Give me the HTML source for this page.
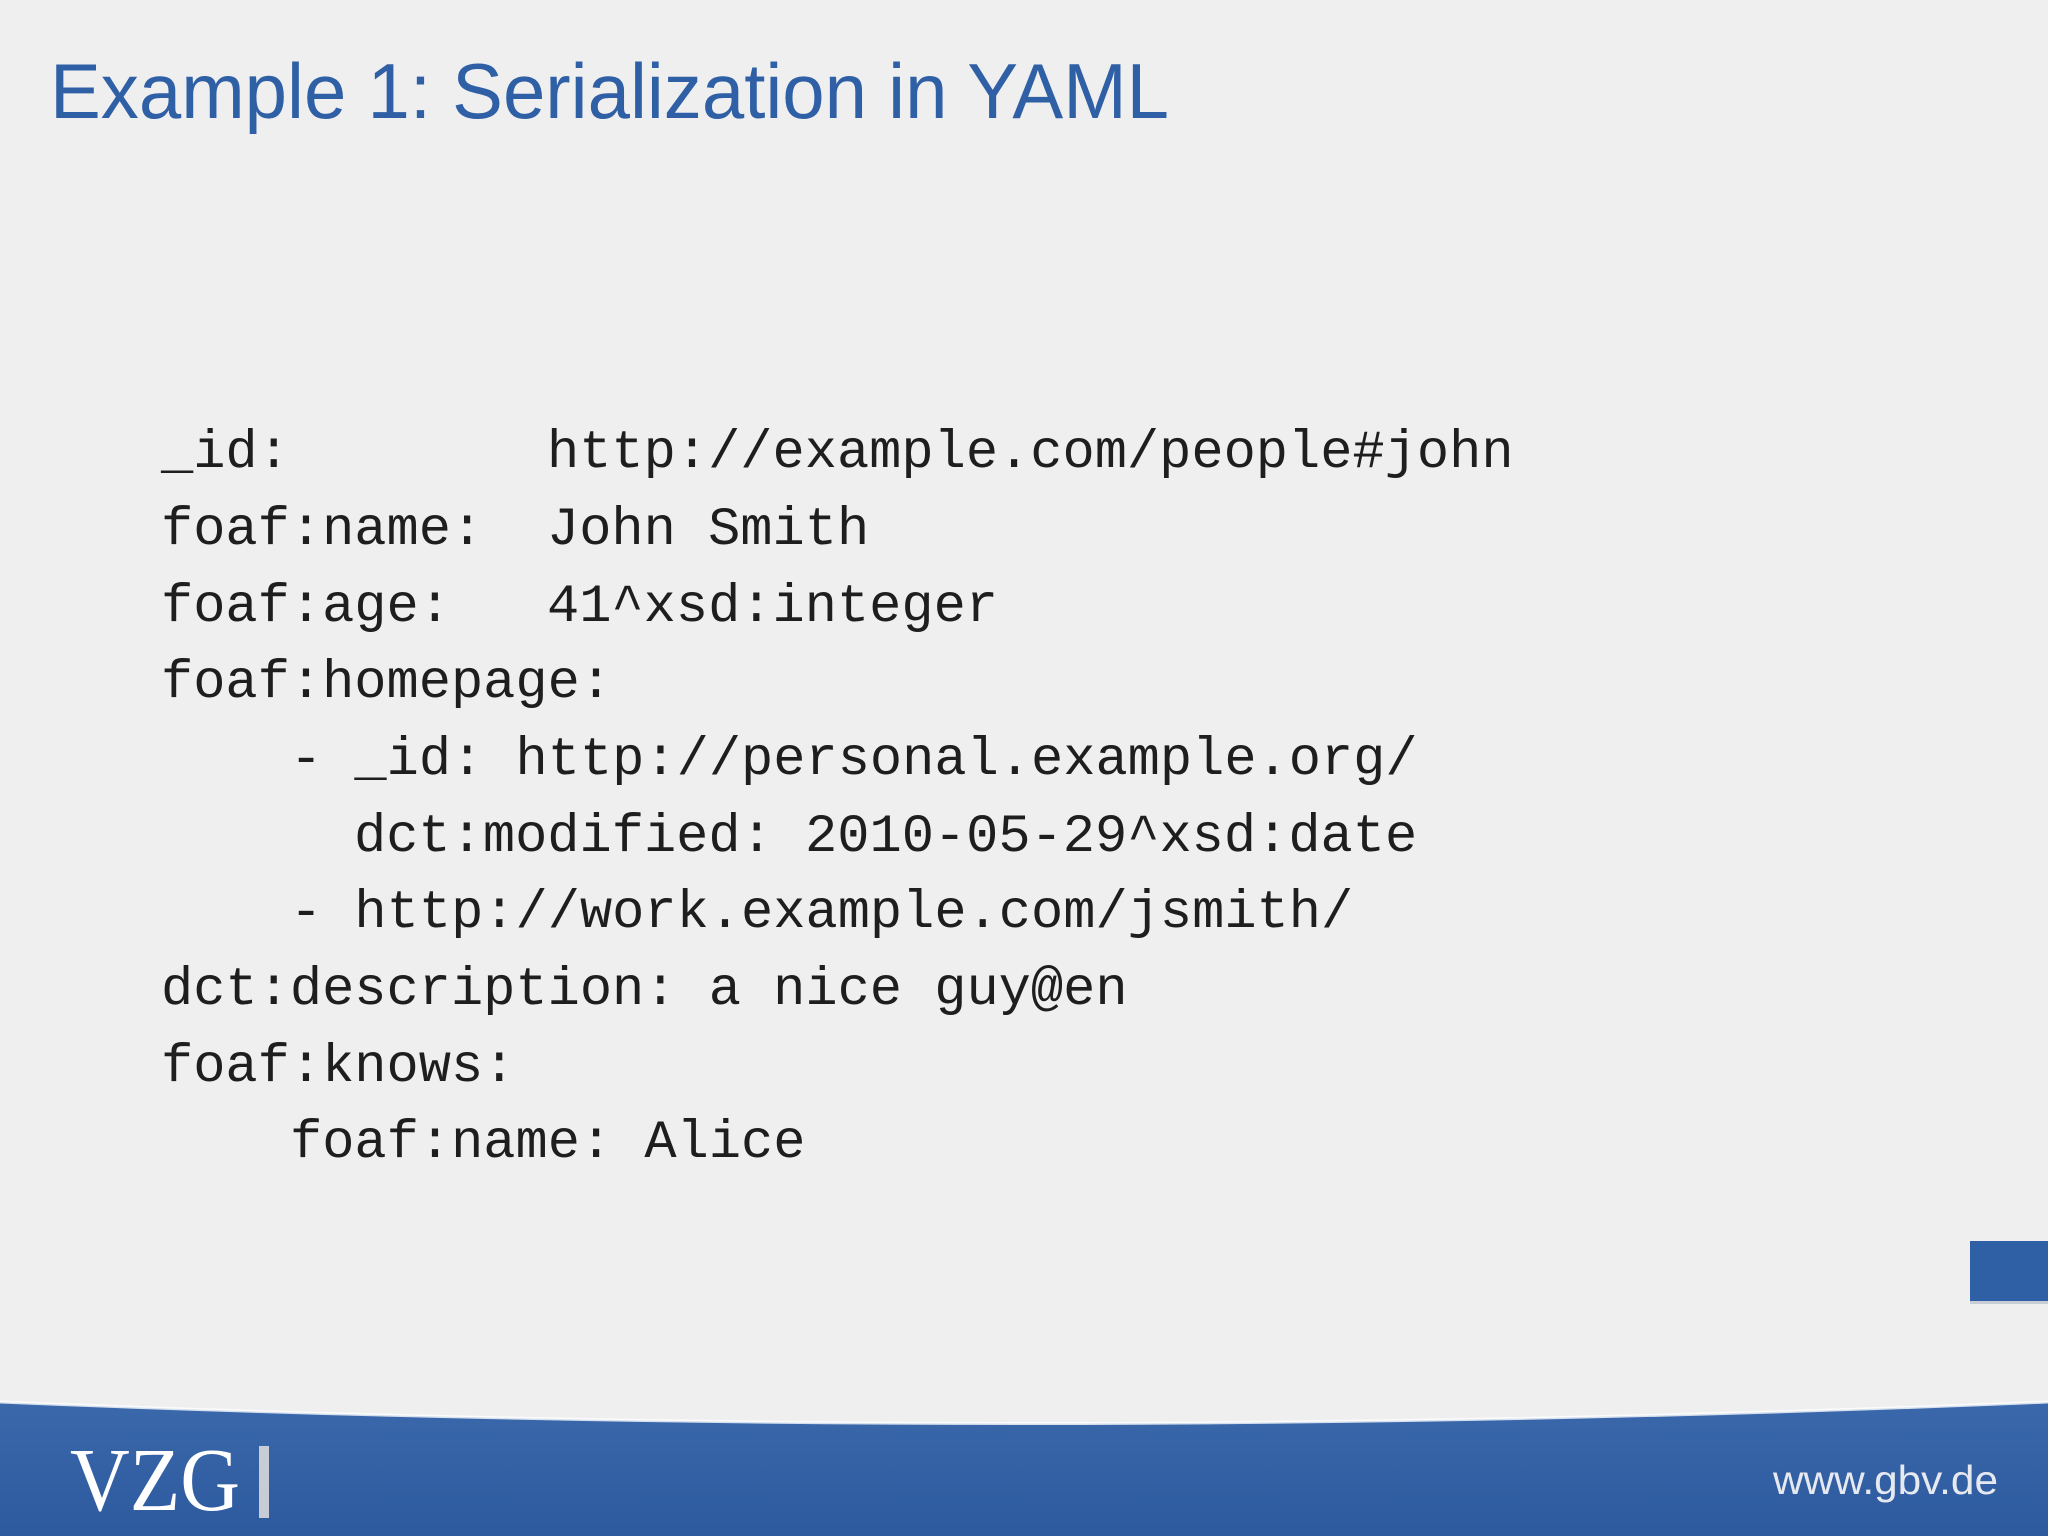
<!DOCTYPE html>
<html><head><meta charset="utf-8">
<style>
html,body{margin:0;padding:0}
body{width:2048px;height:1536px;background:#efeff0;position:relative;overflow:hidden}
svg{position:absolute;left:0;top:0}
</style></head>
<body>
<svg width="2048" height="1536" viewBox="0 0 2048 1536">
<defs>
<linearGradient id="bg" x1="0" y1="0" x2="0" y2="1">
<stop offset="0" stop-color="#3a68ab"/>
<stop offset="1" stop-color="#2d5a9e"/>
</linearGradient>
</defs>
<text x="50" y="118" font-family="Liberation Sans, sans-serif" font-size="78" fill="#2f5fa5" textLength="1119" lengthAdjust="spacingAndGlyphs">Example 1: Serialization in YAML</text>
<g font-family="Liberation Mono, monospace" font-size="53.7" fill="#1e1e1e">
<text x="161" y="467">_id:</text><text x="547" y="467">http://example.com/people#john</text>
<text x="161" y="544">foaf:name:</text><text x="547" y="544">John Smith</text>
<text x="161" y="621">foaf:age:</text><text x="547" y="621">41^xsd:integer</text>
<text x="161" y="697">foaf:homepage:</text>
<text x="290" y="774">- _id: http://personal.example.org/</text>
<text x="354" y="851">dct:modified: 2010-05-29^xsd:date</text>
<text x="290" y="927">- http://work.example.com/jsmith/</text>
<text x="161" y="1004">dct:description: a nice guy@en</text>
<text x="161" y="1081">foaf:knows:</text>
<text x="290" y="1157">foaf:name: Alice</text>
</g>
<rect x="1970" y="1241" width="78" height="62" fill="#2f5fa5"/>
<rect x="1970" y="1301" width="78" height="3" fill="#c9ced6"/>
<path d="M0 1402 Q1024 1445 2048 1402 L2048 1536 L0 1536 Z" fill="url(#bg)"/>
<path d="M0 1402 Q1024 1445 2048 1402" fill="none" stroke="#ffffff" stroke-width="3" opacity="0.8"/>
<text x="70" y="1510" font-family="Liberation Serif, serif" font-size="90" fill="#ffffff" textLength="170" lengthAdjust="spacingAndGlyphs">VZG</text>
<rect x="259" y="1446" width="10" height="72" fill="#c8ccd4"/>
<text x="1773" y="1494" font-family="Liberation Sans, sans-serif" font-size="41" fill="#e6e9f0" textLength="225" lengthAdjust="spacingAndGlyphs">www.gbv.de</text>
</svg>
</body></html>
